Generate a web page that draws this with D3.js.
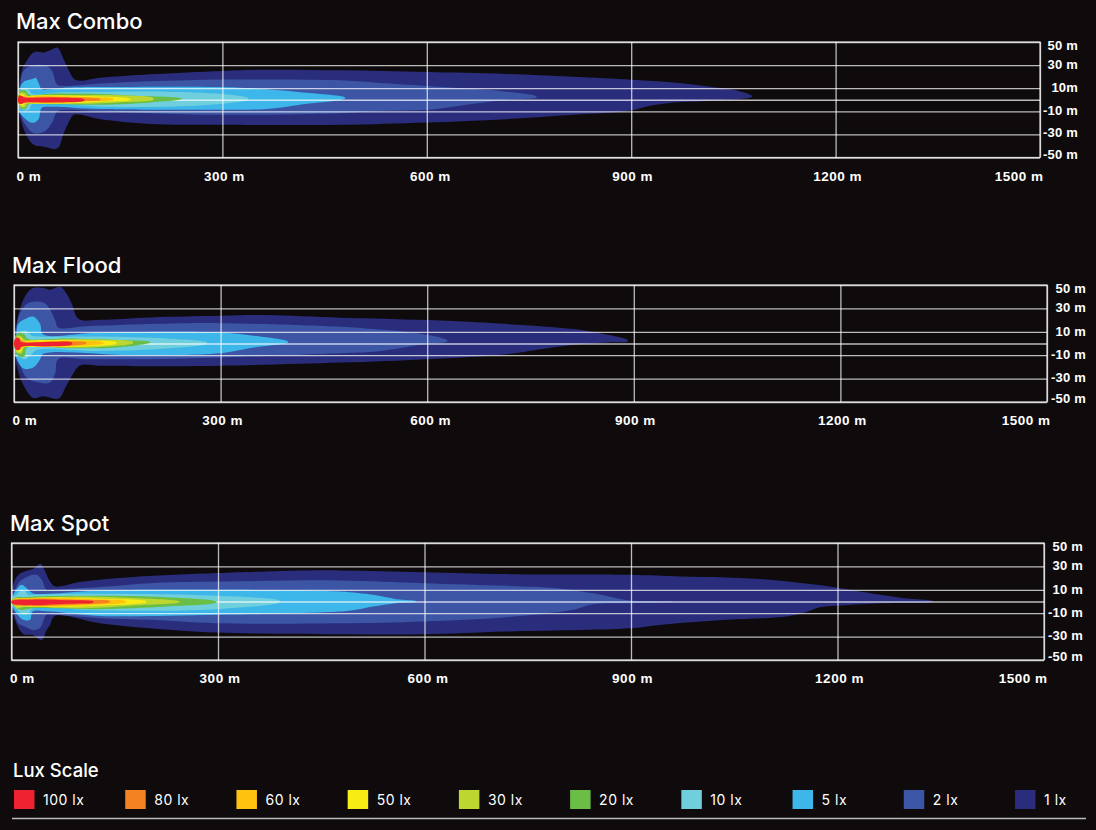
<!DOCTYPE html>
<html>
<head>
<meta charset="utf-8">
<script src="https://cdn.jsdelivr.net/npm/d3@7"></script>
<style>
  html, body { margin: 0; background: #0f0b0c; }
  svg { display: block; font-family: Inter, sans-serif; }
  .tick text { fill: #fff; font-size: 13.5px; font-weight: 600; letter-spacing: 0.5px; }
  .lateral .tick text { font-size: 13px; letter-spacing: 0.2px; }
  .domain { display: none; }
</style>
</head>
<body>
<div id="chart"></div>
<script>
// light output bands, outermost first
const luxLabels = ['100 lx', '80 lx', '60 lx', '50 lx', '30 lx', '20 lx', '10 lx', '5 lx', '2 lx', '1 lx'];
const luxColors = ['#ee2230', '#f58220', '#ffc20e', '#f7ec13', '#bed630', '#6abd45', '#6fcfdd', '#3db6ea', '#3c55a5', '#2a2d7c'];

const distanceTicks = [0, 300, 600, 900, 1200, 1500];
const distanceLabels = ['0 m', '300 m', '600 m', '900 m', '1200 m', '1500 m'];
const lateralTicks = [50, 30, 10, 0, -10, -30, -50];
const comboLateralLabels = ['50 m', '30 m', '10m', '', '-10 m', '-30 m', '-50 m'];
const lateralLabels = ['50 m', '30 m', '10 m', '', '-10 m', '-30 m', '-50 m'];

// contours: [distance m, lateral m], going out along the top and back along the bottom
const combo1 = [[0,0],[3,17],[6,26],[11,32],[23,41],[38,41],[48,43],[58,45],[67,35],[75,25],[85,17],[121,19],[194,22],[300,25],[365,26],[473,25.5],[600,24],[717,22.3],[899,17.4],[962,15],[1011,11.6],[1060,7.2],[1077,3.5],[1077,2.3],[1011,-1],[962,-2.3],[928,-5.2],[899,-9.3],[815,-13],[717,-16.8],[600,-19.7],[473,-21.7],[300,-21.7],[194,-20.9],[121,-16.8],[82,-13],[75,-18.8],[67,-29],[58,-42],[38,-40.6],[23,-39],[11,-29],[3,-14.5]];
const combo2 = [[0,0],[3,11],[8,25],[23,30],[43,29],[50,25],[58,13],[72,12],[121,14],[194,16],[300,17.5],[365,17.5],[473,16.8],[522,15],[600,12],[669,9.5],[717,7],[761,2.9],[761,2],[717,0],[669,-3.5],[620,-7.5],[600,-8.7],[522,-10],[473,-11.6],[300,-13],[194,-11.6],[121,-10],[72,-8.7],[58,-10],[50,-20],[40,-27],[23,-29],[9,-20],[3,-9]];
const combo5 = [[0,0],[1,6],[4,12],[9.5,16],[21,18],[26,19],[30,15],[35,9],[48,9],[72,10.5],[121,11],[300,11],[365,9],[414,6.5],[480,2],[480,1],[414,-4.3],[365,-8],[300,-8.7],[121,-8],[48,-6],[35,-7],[30,-17],[21,-20],[9.5,-16],[1,-9]];
const combo10 = [[0,0],[1,4.5],[6,10],[16,8.7],[21,5],[60,6.5],[121,7],[219,7],[300,5],[338,1.5],[338,0.3],[300,-3.5],[219,-6],[121,-6],[21,-4],[16,-8.7],[6,-8.7],[1,-4.5]];
const combo20 = [[0,0],[1,4.5],[4,8],[11,8],[16,4.5],[48,5.2],[121,5],[170,3.5],[240,1.2],[240,0.6],[194,-2.3],[121,-4.3],[48,-3.8],[16,-4],[11,-8],[4,-7.5],[1,-3]];
const combo30 = [[0,0],[1,4],[5,6.4],[10,5.8],[14,3.5],[24,3.8],[96,4],[146,3.8],[199,1.4],[199,0],[146,-2.3],[96,-3.5],[24,-3.5],[14,-3.5],[10,-6.4],[5,-6.4],[1,-3.5]];
const combo50 = [[0,0],[1,3],[4,5.2],[9,4],[11,2.4],[18,3.2],[72,3.5],[121,2.9],[165,0.9],[165,-0.3],[121,-1.7],[72,-3.1],[18,-3],[11,-2.6],[7.5,-5.2],[4,-4.6],[1,-2.3]];
const combo60 = [[0,0],[1,2.5],[4,4],[7,3],[13,2.8],[48,3],[102,2.3],[140,0.9],[140,0],[102,-1.4],[48,-2.8],[13,-2.6],[7,-3.5],[4,-3.8],[1,-2]];
const combo80 = [[0,0],[2,2.9],[5,3.5],[9,2.6],[33,2.6],[92,1.9],[121,0.6],[121,-0.3],[92,-1.4],[33,-2.4],[9,-2.4],[5,-3.5],[2,-2.9]];
const combo100 = [[0,0],[2,3.8],[6,3],[9,2],[60,1.8],[97,0.5],[97,-0.9],[60,-2.4],[9,-2.6],[6,-3.5],[2,-3.5]];

const flood1 = [[0,0],[4,18],[14,38],[26,47],[43,47.5],[52,46],[67,48.5],[76,43],[84,33.7],[94,20.9],[125,20.3],[198,22.3],[299,23.7],[367,24.3],[474,22],[600,20],[716,16.6],[813,12.3],[862,7.4],[891,2.9],[891,1.7],[862,0.9],[813,-1.1],[765,-4.9],[716,-9.1],[600,-13.4],[474,-16.3],[299,-19],[198,-19.4],[125,-19],[96,-18.9],[84,-27.7],[76,-36],[65,-47],[43,-45],[28,-46.6],[14,-36],[4,-19]];
const flood2 = [[0,0],[1.5,6.6],[9,26.6],[21,34.6],[43,35],[52,29.4],[60,19.4],[64,13.7],[101,14.6],[198,16.6],[299,17.4],[474,14.3],[522,12.3],[595,8],[629,2.9],[629,1.7],[595,-0.6],[566,-3.4],[522,-7.1],[474,-8.3],[299,-12],[198,-13.4],[101,-13.4],[64,-13.4],[60,-24.9],[52,-33.4],[33,-32.9],[18,-29],[6,-13.4]];
const flood5 = [[0,0],[3,5],[6,16.6],[16,21],[28,23],[38,16.6],[42,8],[125,9.4],[299,9.4],[348,6.6],[398,1.7],[398,0.9],[348,-3.4],[299,-8.3],[174,-10],[42,-9],[38,-13.4],[28,-20.6],[14,-21.4],[4,-13.4]];
const flood10 = [[0,0],[1.5,5],[6,9.4],[18,10.9],[26,6.6],[33,6],[125,6],[222,4.3],[280,0.9],[280,-0.3],[222,-4.3],[125,-6.3],[33,-5.4],[26,-9],[16,-13.4],[6,-10.6],[1.5,-5.4]];
const flood20 = [[0,0],[1.5,4.3],[6,8.9],[15,8],[19,4.3],[76,4.3],[149,3],[198,1.4],[198,0.9],[149,-3.4],[76,-4],[19,-3.4],[15,-11],[6,-10.6],[1.5,-5.4]];
const flood30 = [[0,0],[1.5,3.1],[5,6.6],[11,6],[16,3.1],[76,3.7],[125,3.4],[173,1.4],[173,0.3],[125,-2.9],[76,-3.4],[16,-2.9],[11,-8.3],[5,-8.3],[1.5,-4.3]];
const flood50 = [[0,0],[2,2.6],[5,5.1],[10,4.3],[13,2],[23,2.6],[101,2.6],[149,1.1],[149,0],[101,-2.6],[23,-2.9],[13,-2.6],[10,-6.6],[5,-6.6],[2,-3.4]];
const flood60 = [[0,0],[2,2.3],[5,4.3],[9,3.4],[16,2],[86,2.3],[130,0.9],[130,0],[86,-2.3],[16,-2.6],[9,-5.4],[5,-5.7],[2,-2.9]];
const flood80 = [[0,0],[2,1.9],[4,4.6],[8,4],[13,1.7],[76,1.7],[105,0.9],[105,0],[76,-2],[13,-2.3],[8,-4.9],[4,-5.4],[2,-2.4]];
const flood100 = [[0,0],[3,4.9],[8,4.3],[10,1.4],[52,1.4],[84,0.9],[84,-0.9],[52,-2.6],[10,-3],[8,-5.4],[3,-5.4]];

const spot1 = [[0,0],[2.4,14.3],[10,22.9],[19,25.7],[31,27.7],[42,32.3],[48,27],[56,17],[63,13],[104,17],[177,20.9],[298,24.3],[370,25.7],[477,26.6],[598,25],[719,23.4],[898,22.9],[971,21.4],[1039,20.6],[1101,18.6],[1160,14.9],[1198,12],[1257,6.3],[1305,2.3],[1339,0.3],[1339,-0.3],[1257,-1.7],[1198,-3.7],[1174,-5],[1155,-9],[1126,-12.9],[1039,-15.7],[942,-20],[898,-22.9],[719,-25.7],[598,-28],[477,-28],[298,-26.6],[201,-22.9],[128,-18.6],[63,-12.3],[56,-20],[51,-24.3],[44,-32.9],[31,-28.6],[17,-27.7],[5,-15.7]];
const spot2 = [[0,0],[1.5,5.7],[5,10],[12,17],[24,21.4],[36,22.9],[44,18.6],[51,10],[60,10],[128,12.3],[201,15.7],[298,17],[477,18],[598,15.7],[719,13.4],[792,11.4],[845,7],[898,0.9],[961,0],[961,-0.3],[898,-1.4],[845,-2.3],[816,-7],[719,-13.4],[598,-17],[477,-18.6],[298,-18.6],[201,-15.7],[128,-14.3],[60,-11.4],[51,-11.4],[41,-22.9],[31,-24.3],[19,-21.4],[10,-18.6],[2.4,-7]];
const spot5 = [[0,0],[1.5,4.3],[7,10],[14.5,14.3],[22,11.4],[31,7],[56,6.6],[128,9.4],[298,10],[477,8.6],[525,5.7],[559,2],[588,0.3],[588,-0.3],[559,-1.4],[525,-4.3],[501,-7],[477,-8.6],[298,-11.4],[128,-12.3],[56,-8.6],[31,-8.6],[27,-15.7],[17,-15.7],[7,-10],[1.5,-4.3]];
const spot10 = [[0,0],[1.5,3],[7,5.7],[17,10],[25,5.5],[31,5.7],[128,6.6],[298,4.9],[390,0.6],[390,-0.6],[298,-6.6],[128,-7.7],[31,-6],[25,-10],[17,-11.4],[7,-6],[1.5,-3]];
const spot20 = [[0,0],[2,2.5],[7,3.7],[17,3.7],[31,4.3],[128,4.9],[225,3.7],[298,0],[298,-0.9],[225,-4.3],[128,-6.6],[31,-5.7],[12,-7],[2,-3]];
const spot30 = [[0,0],[3,2.3],[12,2.9],[22,2.9],[105,4.3],[177,2.9],[244,0],[244,-0.6],[177,-3.4],[105,-5.7],[22,-4.3],[7,-5.7],[3,-2.5]];
const spot50 = [[0,0],[3,1.8],[12,2.6],[56,3.4],[128,2.3],[196,0.3],[196,-0.6],[128,-3.4],[56,-4.9],[12,-3.7],[3,-2]];
const spot60 = [[0,0],[3,1.4],[7,2],[56,2.9],[119,2],[167,0.3],[167,-0.6],[119,-2.9],[56,-4.3],[7,-2.9],[3,-1.7]];
const spot80 = [[0,0],[2,1.4],[31,2.3],[104,1.4],[143,0.3],[143,-0.6],[104,-2.3],[31,-3.7],[2,-2.3]];
const spot100 = [[0,0],[1.5,0.9],[31,1.6],[80,1],[119,0],[119,-0.9],[80,-2],[31,-3.1],[1.5,-2]];

const comboContours = [combo1, combo2, combo5, combo10, combo20, combo30, combo50, combo60, combo80, combo100];
const floodContours = [flood1, flood2, flood5, flood10, flood20, flood30, flood50, flood60, flood80, flood100];
const spotContours = [spot1, spot2, spot5, spot10, spot20, spot30, spot50, spot60, spot80, spot100];

const width = 1096, height = 830;
// the tick labels do not sit exactly on their gridlines in the original
const labelNudge = [3, -1, -1, 0, -1, -2, -4];
const distanceNudge = [-2, 1.5, 3, 1, 1.5, 3];
// gridlines run over the pale bands but under the hot core of the beam
const bandsUnderGrid = 4;

const svg = d3.select('#chart').append('svg')
  .attr('width', width).attr('height', height);

svg.append('rect').attr('width', width).attr('height', height).attr('fill', '#0f0b0c');

function drawPanel(opts) {
  const x = d3.scaleLinear().domain([0, 1500]).range([opts.left, opts.right]);
  const y = d3.scaleLinear().domain([50, -50]).range([opts.top, opts.bottom]);
  const line = d3.line()
    .x(function (d) { return x(d[0]); })
    .y(function (d) { return y(d[1]); })
    .curve(d3.curveCatmullRomClosed.alpha(0.5));
  const bandColor = function (i) { return luxColors[luxColors.length - 1 - i]; };

  const g = svg.append('g');

  g.append('text')
    .attr('x', opts.titleX).attr('y', opts.titleY)
    .attr('fill', '#fff')
    .attr('font-size', 22).attr('font-weight', 500)
    .text(opts.title);

  // outermost band first so the inner ones paint over it
  g.selectAll('path.band')
    .data(opts.contours.slice(0, bandsUnderGrid))
    .enter().append('path')
    .attr('class', 'band')
    .attr('d', line)
    .attr('fill', function (d, i) { return bandColor(i); });

  const yAxis = d3.axisRight(y)
    .tickValues(lateralTicks)
    .tickFormat(function (d, i) { return opts.latLabels[i]; })
    .tickSize(opts.left - opts.right)
    .tickPadding(0);

  const yg = g.append('g')
    .attr('class', 'lateral')
    .attr('transform', 'translate(' + opts.right + ',0)')
    .call(yAxis);
  yg.selectAll('.tick line').attr('stroke', '#fff').attr('stroke-opacity', 0.72).attr('stroke-width', 1.3);
  yg.selectAll('.tick text')
    .attr('text-anchor', 'end')
    .attr('x', opts.labelRight - opts.right)
    .attr('dy', function (d, i) { return (labelNudge[i] + 4.5) + 'px'; });

  const xAxis = d3.axisBottom(x)
    .tickValues(distanceTicks)
    .tickFormat(function (d, i) { return distanceLabels[i]; })
    .tickSize(opts.top - opts.bottom)
    .tickPadding(0);

  const xg = g.append('g')
    .attr('transform', 'translate(0,' + opts.bottom + ')')
    .call(xAxis);
  xg.selectAll('.tick line').attr('stroke', '#fff').attr('stroke-opacity', 0.72).attr('stroke-width', 1.3);
  xg.selectAll('.tick text')
    .attr('y', 23)
    .attr('dy', 0)
    .attr('x', function (d, i) { return distanceNudge[i]; })
    .attr('text-anchor', function (d, i) {
      if (i === 0) return 'start';
      if (i === distanceTicks.length - 1) return 'end';
      return 'middle';
    });

  g.append('rect')
    .attr('x', opts.left).attr('y', opts.top)
    .attr('width', opts.right - opts.left)
    .attr('height', opts.bottom - opts.top)
    .attr('fill', 'none')
    .attr('stroke', '#fff').attr('stroke-opacity', 0.72).attr('stroke-width', 1.3);

  g.selectAll('path.core')
    .data(opts.contours.slice(bandsUnderGrid))
    .enter().append('path')
    .attr('class', 'core')
    .attr('d', line)
    .attr('fill', function (d, i) { return bandColor(i + bandsUnderGrid); });
}

drawPanel({ title: 'Max Combo', titleX: 16, titleY: 29, left: 18, right: 1040, top: 42, bottom: 157.5, labelRight: 1078, contours: comboContours, latLabels: comboLateralLabels });
drawPanel({ title: 'Max Flood', titleX: 12, titleY: 273, left: 14, right: 1047, top: 285, bottom: 402, labelRight: 1086, contours: floodContours, latLabels: lateralLabels });
drawPanel({ title: 'Max Spot', titleX: 10, titleY: 531, left: 11.5, right: 1044, top: 543, bottom: 660, labelRight: 1083, contours: spotContours, latLabels: lateralLabels });

// legend
const legendX = d3.scaleLinear().domain([0, luxLabels.length - 1]).range([14, 1015]);

svg.append('text')
  .attr('x', 13).attr('y', 777)
  .attr('fill', '#fff')
  .attr('font-size', 18.5).attr('font-weight', 500)
  .text('Lux Scale');

const legend = svg.selectAll('g.legend')
  .data(luxLabels)
  .enter().append('g')
  .attr('class', 'legend')
  .attr('transform', function (d, i) { return 'translate(' + legendX(i) + ',790)'; });

legend.append('rect')
  .attr('width', 20.5).attr('height', 19)
  .attr('fill', function (d, i) { return luxColors[i]; });

legend.append('text')
  .attr('x', 29).attr('y', 14.5)
  .attr('fill', '#fff')
  .attr('font-size', 14).attr('font-weight', 400)
  .attr('letter-spacing', 0.5)
  .text(function (d) { return d; });

svg.append('line')
  .attr('x1', 12).attr('x2', 1086)
  .attr('y1', 818.5).attr('y2', 818.5)
  .attr('stroke', '#fff').attr('stroke-opacity', 0.72).attr('stroke-width', 1.3);
</script>
</body>
</html>
